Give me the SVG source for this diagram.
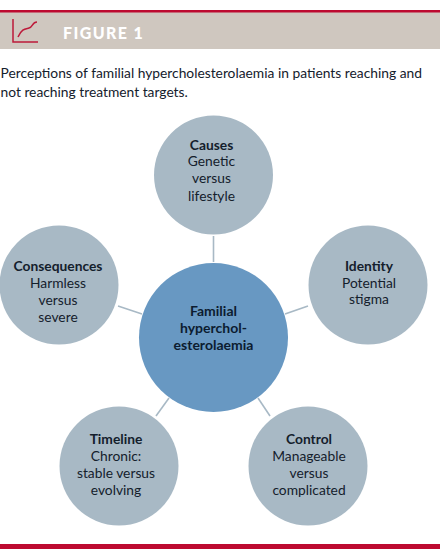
<svg xmlns="http://www.w3.org/2000/svg" width="440" height="555" viewBox="0 0 440 555">
<style>
text{font-family:Lato,"Open Sans","Liberation Sans",sans-serif;fill:#14202c;text-anchor:middle}
.b{font-weight:700;font-size:13.8px}
.t{font-size:13.8px}
.m{font-weight:700;font-size:14px;fill:#0c1c30}
.cap{font-size:13.8px;text-anchor:start}
.c{fill:#a8b9c5}
.link{stroke:#a8b9c5;stroke-width:1.6;fill:none}
</style>
<rect width="440" height="555" fill="#fff"/>
<g id="header">
<rect x="0" y="12" width="440" height="37" fill="#cfc7bf"/>
<rect x="0" y="10" width="440" height="2.5" fill="#bd0a30"/>
<path d="M13 19V42H38M18 37C22 28 26 29 29 28C33 27 32 22 37 22" fill="none" stroke="#bd1a3a" stroke-width="1.5"/>
<text x="63" y="39" style="font-size:16px;font-weight:900;fill:#fff;letter-spacing:1.4px;text-anchor:start">FIGURE 1</text>
</g>
<g id="caption">
<text class="cap" x="0.5" y="78">Perceptions of familial hypercholesterolaemia in patients reaching and</text>
<text class="cap" x="0.5" y="97">not reaching treatment targets.</text>
</g>
<g id="connectors">
<line class="link" x1="213.5" y1="236" x2="213.5" y2="262"/>
<line class="link" x1="118" y1="306" x2="142" y2="314"/>
<line class="link" x1="308" y1="306" x2="285" y2="314"/>
<line class="link" x1="156" y1="416" x2="169" y2="398"/>
<line class="link" x1="270" y1="416" x2="258" y2="398"/>
</g>
<g id="center">
<circle cx="213.5" cy="337.5" r="74.5" fill="#6898c2"/>
<text class="m" x="213.5" y="316">Familial</text>
<text class="m" x="213.5" y="333">hyperchol-</text>
<text class="m" x="213.5" y="350">esterolaemia</text>
</g>
<g id="causes">
<circle class="c" cx="213.5" cy="175" r="59.5"/>
<text class="b" x="211.5" y="150">Causes</text>
<text class="t" x="211.5" y="166">Genetic</text>
<text class="t" x="211.5" y="183">versus</text>
<text class="t" x="211.5" y="201">lifestyle</text>
</g>
<g id="identity">
<circle class="c" cx="368" cy="285" r="59.5"/>
<text class="b" x="369" y="271">Identity</text>
<text class="t" x="369" y="288">Potential</text>
<text class="t" x="369" y="304">stigma</text>
</g>
<g id="consequences">
<circle class="c" cx="59" cy="285" r="59.5"/>
<text class="b" x="58" y="271">Consequences</text>
<text class="t" x="58" y="288">Harmless</text>
<text class="t" x="58" y="305">versus</text>
<text class="t" x="58" y="322">severe</text>
</g>
<g id="timeline">
<circle class="c" cx="119" cy="466" r="59.5"/>
<text class="b" x="116" y="444">Timeline</text>
<text class="t" x="116" y="461">Chronic:</text>
<text class="t" x="116" y="478">stable versus</text>
<text class="t" x="116" y="495">evolving</text>
</g>
<g id="control">
<circle class="c" cx="308" cy="466" r="59.5"/>
<text class="b" x="309" y="444">Control</text>
<text class="t" x="309" y="461">Manageable</text>
<text class="t" x="309" y="478">versus</text>
<text class="t" x="309" y="495">complicated</text>
</g>
<rect id="footer" x="0" y="544" width="440" height="5" fill="#bd0a30"/>
</svg>
